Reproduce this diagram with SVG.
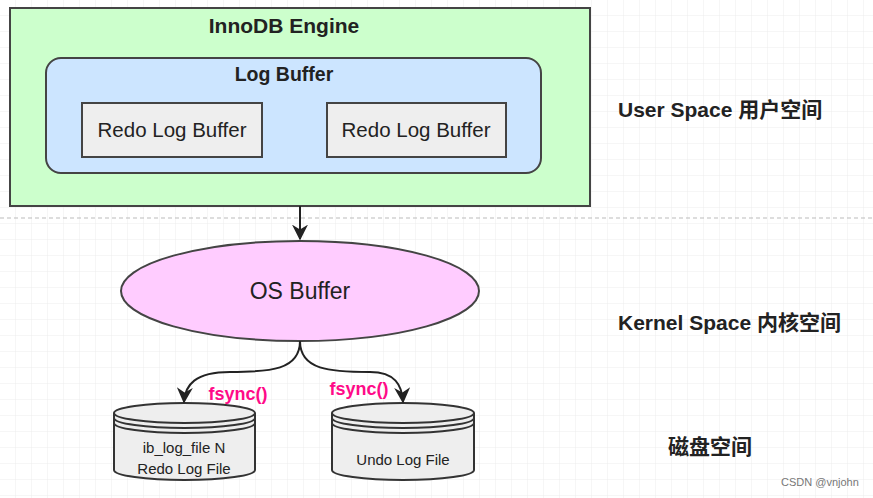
<svg xmlns="http://www.w3.org/2000/svg" width="873" height="498" viewBox="0 0 873 498">
<defs>
<pattern id="grid" width="16" height="16" patternUnits="userSpaceOnUse"><path d="M16 0V16H0" fill="none" stroke="#ececec" stroke-width="1"/></pattern>
<marker id="arr" viewBox="0 0 10 10" refX="9" refY="5" markerWidth="8" markerHeight="8" orient="auto"><path d="M0,0 L10,5 L0,10 L3,5 Z" fill="#222"/></marker>
</defs>
<style>
text{font-family:"Liberation Sans",Arial,sans-serif;fill:#222}
.b{font-weight:bold}
.box{stroke:#444;stroke-width:2}
.edge{fill:none;stroke:#222;stroke-width:2;marker-end:url(#arr)}
.cyl{fill:#eeeeee;stroke:#333;stroke-width:2}
.pink{fill:#ff0a88;font-weight:bold;font-size:18px}
.side{font-size:21px;font-weight:bold;font-family:"Liberation Sans","Noto Sans CJK SC",sans-serif}
</style>
<rect width="873" height="498" fill="#fff"/>
<rect width="873" height="498" fill="url(#grid)"/>
<line x1="0" y1="218" x2="873" y2="218" stroke="#bbb" stroke-dasharray="4 3"/>
<g id="innodb"><rect class="box" x="10" y="8" width="580" height="198" fill="#ccffcc"/><text class="b" x="284" y="33" font-size="21" text-anchor="middle">InnoDB Engine</text></g>
<g id="logbuffer"><rect class="box" x="46" y="58" width="495" height="115" rx="15" fill="#cce5ff" stroke="#36393d"/><text class="b" x="284" y="81" font-size="19.5" text-anchor="middle">Log Buffer</text></g>
<g id="redo1"><rect class="box" x="82" y="103" width="180" height="54" fill="#eeeeee"/><text x="172" y="137" font-size="20.5" text-anchor="middle">Redo Log Buffer</text></g>
<g id="redo2"><rect class="box" x="327" y="103" width="179" height="54" fill="#eeeeee"/><text x="416" y="137" font-size="20.5" text-anchor="middle">Redo Log Buffer</text></g>
<g id="osbuffer"><ellipse class="box" cx="300" cy="291" rx="179" ry="50" fill="#ffccff"/><text x="300" y="299" font-size="23" text-anchor="middle">OS Buffer</text></g>
<g id="redofile">
<path class="cyl" d="M114,413 A70.5,10 0 0 1 255,413 V470 A70.5,10 0 0 1 114,470 Z"/>
<path d="M114,413 A70.5,10 0 0 0 255,413 M114,418 A70.5,10 0 0 0 255,418 M114,423 A70.5,10 0 0 0 255,423" fill="none" stroke="#333" stroke-width="2"/>
<text x="184" y="453" font-size="15" text-anchor="middle">ib_log_file N</text>
<text x="184" y="474" font-size="15" text-anchor="middle">Redo Log File</text>
</g>
<g id="undofile">
<path class="cyl" d="M332,413 A71,10 0 0 1 474,413 V470 A71,10 0 0 1 332,470 Z"/>
<path d="M332,413 A71,10 0 0 0 474,413 M332,418 A71,10 0 0 0 474,418 M332,423 A71,10 0 0 0 474,423" fill="none" stroke="#333" stroke-width="2"/>
<text x="403" y="465" font-size="15" text-anchor="middle">Undo Log File</text>
</g>
<g id="connectors">
<path class="edge" d="M300,206 V239"/>
<path class="edge" d="M300,341 C300,370 270,372 230,372 C195,372 185,385 184,402"/>
<path class="edge" d="M300,341 C300,370 330,372 370,372 C395,372 402,385 403,402"/>
</g>
<text class="pink" x="238" y="400" text-anchor="middle">fsync()</text>
<text class="pink" x="359" y="395" text-anchor="middle">fsync()</text>
<text class="side" x="618" y="117">User Space 用户空间</text>
<text class="side" x="618" y="330">Kernel Space 内核空间</text>
<text class="side" x="668" y="454">磁盘空间</text>
<text x="781" y="486" font-size="11" style="fill:#777">CSDN @vnjohn</text>
</svg>
